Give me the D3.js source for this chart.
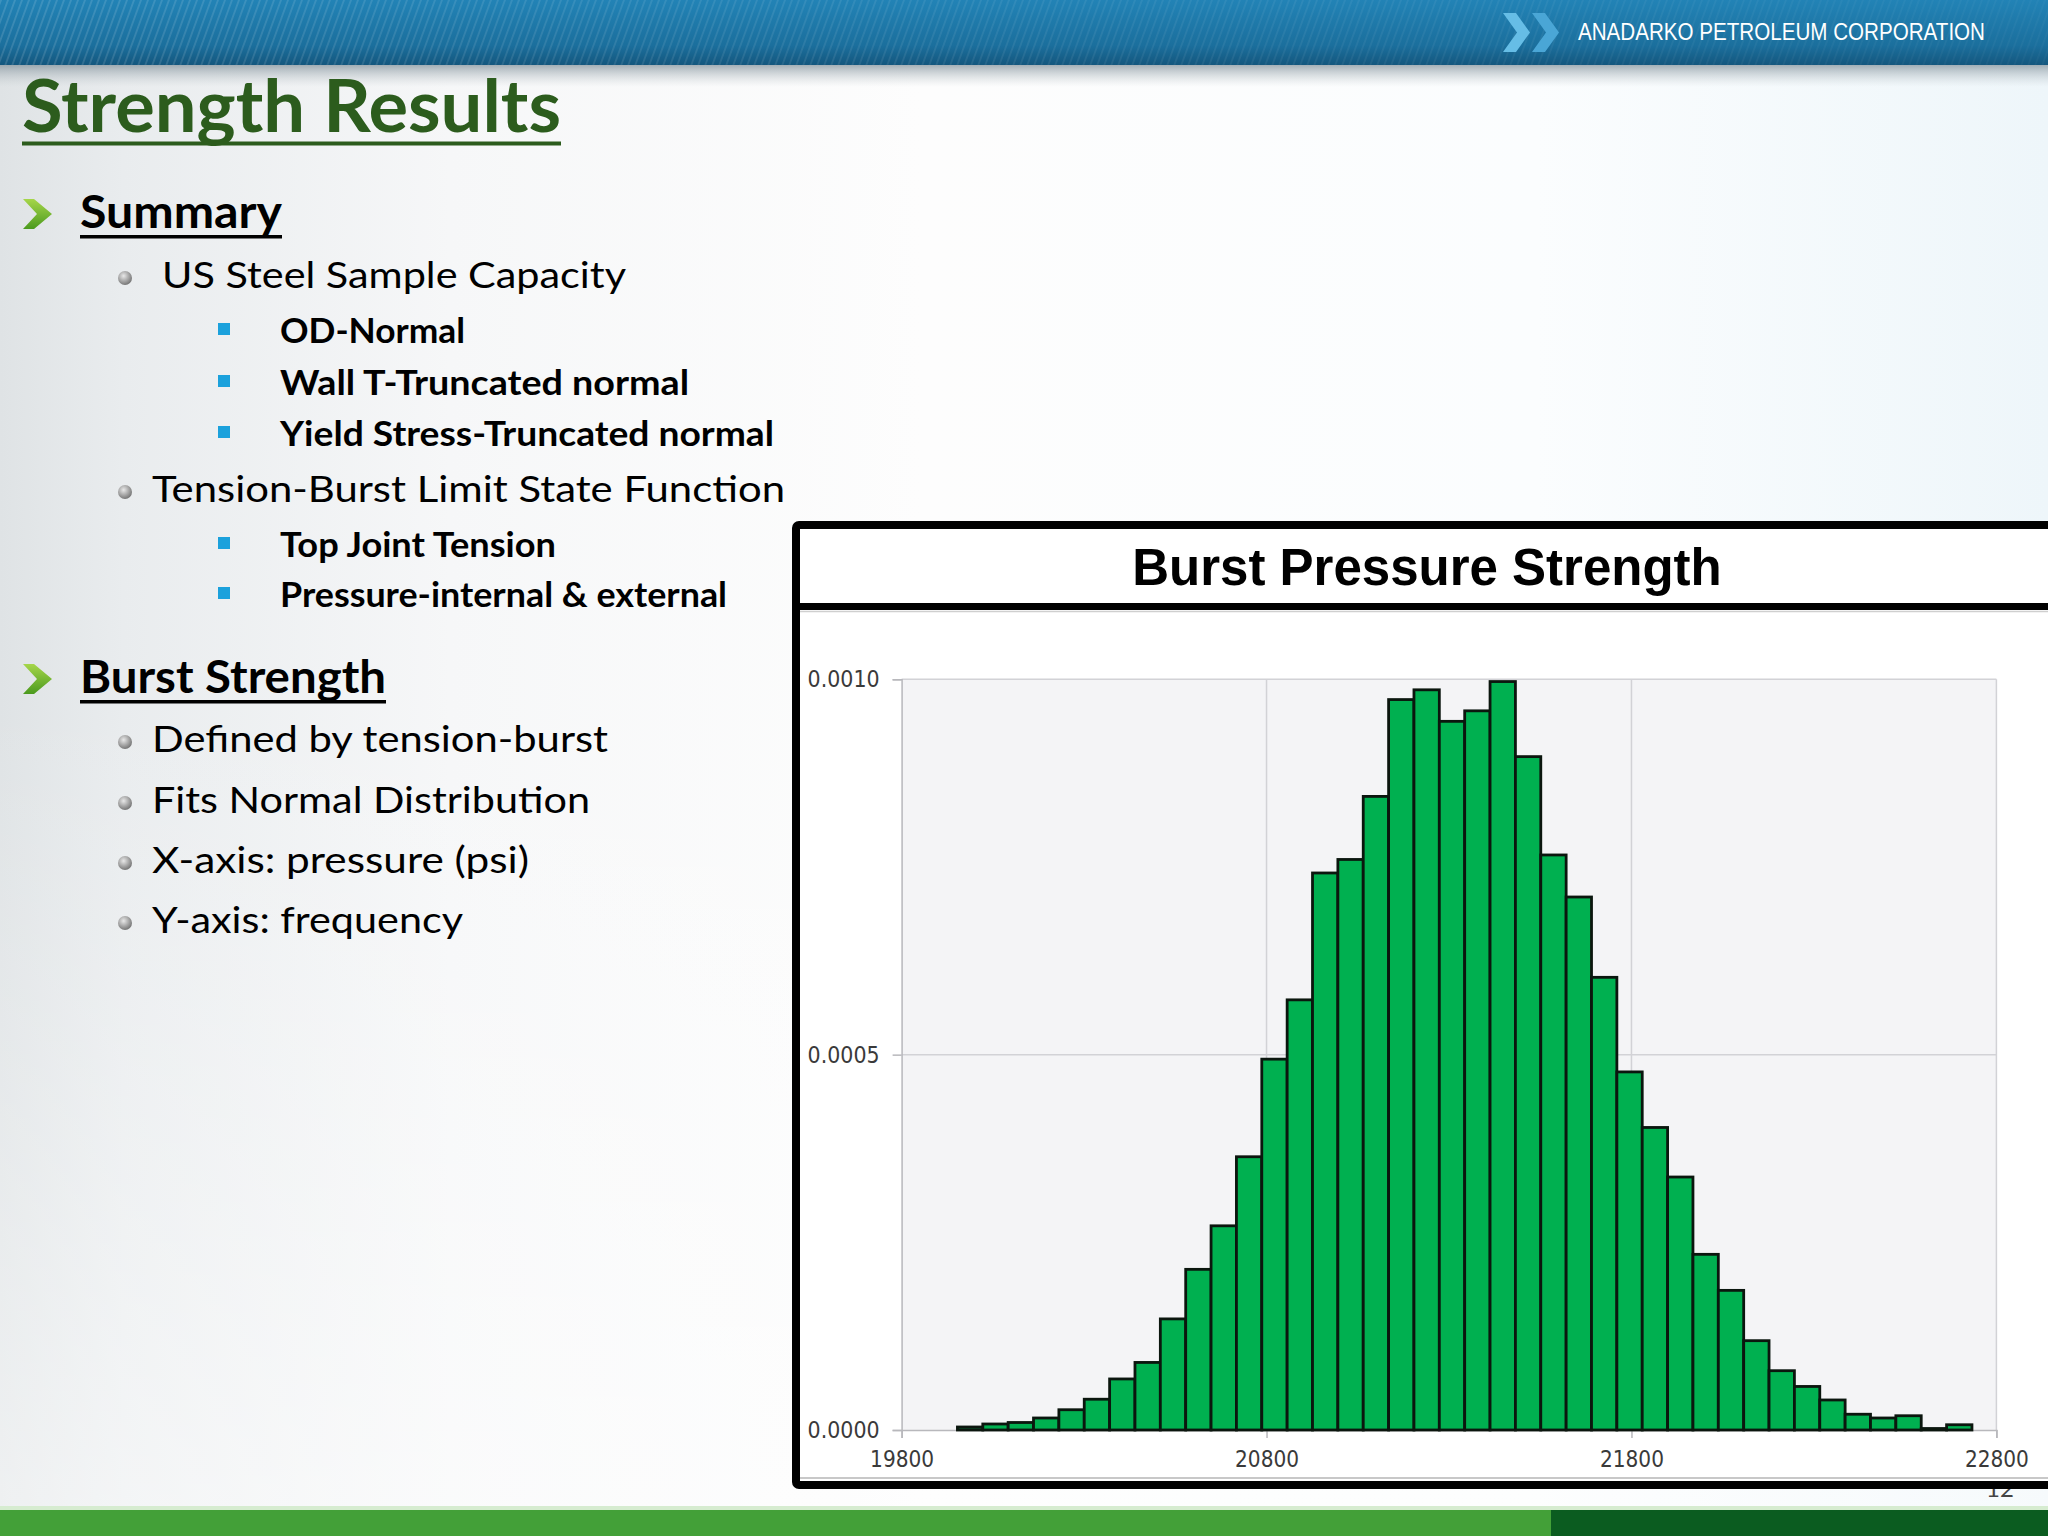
<!DOCTYPE html>
<html><head><meta charset="utf-8">
<script src="https://cdn.jsdelivr.net/npm/d3@7"></script>
<style>html,body{margin:0;padding:0;background:#fff;overflow:hidden;} svg{display:block;}</style>
</head><body>
<svg id="c" width="2048" height="1536"></svg>
<script>
// ---------- data ----------
const binLefts = [19953, 20022.5, 20092, 20161.5, 20231, 20300.5, 20370, 20439.5, 20509, 20578.5,
  20648, 20717.5, 20787, 20856.5, 20926, 20995.5, 21065, 21134.5, 21204, 21273.5,
  21343, 21412.5, 21482, 21551.5, 21621, 21690.5, 21760, 21829.5, 21899, 21968.5,
  22038, 22107.5, 22177, 22246.5, 22316, 22385.5, 22455, 22524.5, 22594, 22663.5];
const binWidth = 69.5;
const density = [0.000004, 0.000008, 0.000010, 0.000016, 0.000027, 0.000041, 0.000068, 0.000090, 0.000148, 0.000214,
  0.000272, 0.000364, 0.000494, 0.000573, 0.000742, 0.000760, 0.000844, 0.000973, 0.000986, 0.000944,
  0.000958, 0.000997, 0.000897, 0.000766, 0.000710, 0.000603, 0.000477, 0.000403, 0.000337, 0.000234,
  0.000186, 0.000119, 0.000079, 0.000058, 0.000040, 0.000021, 0.000016, 0.000019, 0.000002, 0.000007];
const xTicks = [19800, 20800, 21800, 22800];
const xTickLabels = ["19800", "20800", "21800", "22800"];
const yTicks = [0, 0.0005, 0.0010];
const yTickLabels = ["0.0000", "0.0005", "0.0010"];
const chartTitle = "Burst Pressure Strength";
const slideTitle = "Strength Results";
const companyName = "ANADARKO PETROLEUM CORPORATION";
const pageNumber = "12";
// slide bullets: [level, text]
const bullets = [
  [1, "Summary"],
  [2, "US Steel Sample Capacity"],
  [3, "OD-Normal"],
  [3, "Wall T-Truncated normal"],
  [3, "Yield Stress-Truncated normal"],
  [2, "Tension-Burst Limit State Function"],
  [3, "Top Joint Tension"],
  [3, "Pressure-internal & external"],
  [1, "Burst Strength"],
  [2, "Defined by tension-burst"],
  [2, "Fits Normal Distribution"],
  [2, "X-axis: pressure (psi)"],
  [2, "Y-axis: frequency"]
];
// layout for bullets (baseline y, x, text width)
const bulletLayout = [
  [228, 80, 202], [288, 162, 464], [343, 280, 185], [395, 280, 409], [446, 280, 494],
  [502, 152, 633], [557, 280, 276], [607, 280, 447],
  [693, 80, 306], [752, 152, 456], [813, 152, 438], [873, 152, 377], [933, 152, 311]
];

// ---------- drawing ----------
const svg = d3.select("#c");
const defs = svg.append("defs");

const bg = defs.append("linearGradient").attr("id", "bg").attr("x1", 0).attr("x2", 1).attr("y1", 0).attr("y2", 0);
[["0%", "#dfe3e5"], ["6%", "#e9ecee"], ["22%", "#f6f7f8"], ["45%", "#fdfdfd"], ["75%", "#fbfdfe"], ["100%", "#eef6fa"]]
  .forEach(s => bg.append("stop").attr("offset", s[0]).attr("stop-color", s[1]));
svg.append("rect").attr("width", 2048).attr("height", 1536).attr("fill", "url(#bg)");

const bgv = defs.append("linearGradient").attr("id", "bgv").attr("x1", 0).attr("x2", 0).attr("y1", 0).attr("y2", 1);
bgv.append("stop").attr("offset", "0%").attr("stop-color", "#ffffff").attr("stop-opacity", 0);
bgv.append("stop").attr("offset", "100%").attr("stop-color", "#ffffff").attr("stop-opacity", 0.5);
svg.append("rect").attr("y", 700).attr("width", 2048).attr("height", 836).attr("fill", "url(#bgv)");

// header
const hg = defs.append("linearGradient").attr("id", "hg").attr("x1", 0).attr("x2", 0).attr("y1", 0).attr("y2", 1);
[["0%", "#2283b6"], ["70%", "#1b6f9d"], ["100%", "#14577e"]].forEach(s => hg.append("stop").attr("offset", s[0]).attr("stop-color", s[1]));
svg.append("rect").attr("width", 2048).attr("height", 65).attr("fill", "url(#hg)");
const pat = defs.append("pattern").attr("id", "stripes").attr("patternUnits", "userSpaceOnUse")
  .attr("width", 7).attr("height", 65).attr("patternTransform", "skewX(-20)");
pat.append("rect").attr("width", 2).attr("height", 65).attr("fill", "#ffffff").attr("opacity", 0.13);
const sm = defs.append("linearGradient").attr("id", "sm").attr("x1", 0).attr("x2", 1);
sm.append("stop").attr("offset", "0%").attr("stop-color", "#fff").attr("stop-opacity", 1);
sm.append("stop").attr("offset", "55%").attr("stop-color", "#fff").attr("stop-opacity", 0.5);
sm.append("stop").attr("offset", "100%").attr("stop-color", "#fff").attr("stop-opacity", 0.25);
defs.append("mask").attr("id", "stmask").append("rect").attr("width", 2048).attr("height", 65).attr("fill", "url(#sm)");
svg.append("rect").attr("width", 2048).attr("height", 65).attr("fill", "url(#stripes)").attr("mask", "url(#stmask)");
const sh = defs.append("linearGradient").attr("id", "sh").attr("x1", 0).attr("x2", 0).attr("y1", 0).attr("y2", 1);
sh.append("stop").attr("offset", "0%").attr("stop-color", "#7f8f99").attr("stop-opacity", 0.7);
sh.append("stop").attr("offset", "100%").attr("stop-color", "#c0c8cc").attr("stop-opacity", 0);
svg.append("rect").attr("y", 65).attr("width", 2048).attr("height", 22).attr("fill", "url(#sh)");

// logo chevrons
function chevron(x0, color) {
  svg.append("polygon").attr("fill", color)
    .attr("points", [[x0, 13], [x0 + 13, 13], [x0 + 27, 32.5], [x0 + 13, 52], [x0, 52], [x0 + 14, 32.5]].map(p => p.join(",")).join(" "));
}
chevron(1503, "#66bde6");
chevron(1532, "#4aa6d6");
svg.append("text").attr("x", 1578).attr("y", 40).attr("fill", "#ffffff")
  .attr("font-family", "Liberation Sans, Arial, sans-serif").attr("font-size", 23)
  .attr("textLength", 407).attr("lengthAdjust", "spacingAndGlyphs").text(companyName);

// slide title
svg.append("text").attr("x", 22).attr("y", 132).attr("fill", "#2c5c1d")
  .attr("font-family", "Lato, sans-serif").attr("font-weight", "bold").attr("font-size", 72)
  .attr("textLength", 539).attr("lengthAdjust", "spacingAndGlyphs").text(slideTitle);
svg.append("rect").attr("x", 22).attr("y", 141.5).attr("width", 539).attr("height", 4).attr("fill", "#2c5c1d");

// bullets
const cg = defs.append("radialGradient").attr("id", "cg").attr("cx", "40%").attr("cy", "35%").attr("r", "65%");
cg.append("stop").attr("offset", "0%").attr("stop-color", "#e8e8e8");
cg.append("stop").attr("offset", "100%").attr("stop-color", "#777777");
const gg = defs.append("linearGradient").attr("id", "gg").attr("x1", 0).attr("x2", 0).attr("y1", 0).attr("y2", 1);
gg.append("stop").attr("offset", "0%").attr("stop-color", "#a6d64a");
gg.append("stop").attr("offset", "100%").attr("stop-color", "#4b9a1e");

bullets.forEach((b, i) => {
  const [lvl, txt] = b;
  const [by, bx, bw] = bulletLayout[i];
  const t = svg.append("text").attr("x", bx).attr("y", by).attr("fill", "#000")
    .attr("font-family", "Lato, sans-serif").attr("textLength", bw).attr("lengthAdjust", "spacingAndGlyphs").text(txt);
  if (lvl === 1) {
    t.attr("font-weight", "bold").attr("font-size", 46);
    svg.append("rect").attr("x", bx).attr("y", by + 7).attr("width", bw).attr("height", 3.5).attr("fill", "#000");
    const cy = by - 14;
    svg.append("polygon").attr("fill", "url(#gg)")
      .attr("points", [[23, cy - 15], [34, cy - 15], [52, cy], [34, cy + 15], [23, cy + 15], [37, cy]].map(p => p.join(",")).join(" "));
  } else if (lvl === 2) {
    t.attr("font-size", 37);
    svg.append("circle").attr("cx", 125).attr("cy", by - 10).attr("r", 7).attr("fill", "url(#cg)");
  } else {
    t.attr("font-weight", "bold").attr("font-size", 34);
    svg.append("rect").attr("x", 218).attr("y", by - 20).attr("width", 12).attr("height", 12).attr("fill", "#1ba1dc");
  }
});

// page number (partly hidden behind chart frame)
svg.append("text").attr("x", 2000).attr("y", 1497).attr("text-anchor", "middle").attr("fill", "#444")
  .attr("font-family", "Lato, sans-serif").attr("font-size", 24).text(pageNumber);

// bottom band
svg.append("rect").attr("y", 1506).attr("width", 2048).attr("height", 4).attr("fill", "#d6ecd0");
svg.append("rect").attr("y", 1510).attr("width", 1551).attr("height", 26).attr("fill", "#43a038");
svg.append("rect").attr("x", 1551).attr("y", 1510).attr("width", 497).attr("height", 26).attr("fill", "#0b5c20");

// ---------- chart ----------
svg.append("rect").attr("x", 796).attr("y", 525).attr("width", 1270).attr("height", 960).attr("rx", 3)
  .attr("fill", "#ffffff").attr("stroke", "#000").attr("stroke-width", 8);
svg.append("line").attr("x1", 792).attr("x2", 2048).attr("y1", 606.5).attr("y2", 606.5).attr("stroke", "#000").attr("stroke-width", 7);
svg.append("line").attr("x1", 800).attr("x2", 2048).attr("y1", 611.5).attr("y2", 611.5).attr("stroke", "#cfcfcf").attr("stroke-width", 1.5);
svg.append("line").attr("x1", 800).attr("x2", 2048).attr("y1", 1478).attr("y2", 1478).attr("stroke", "#c8c8c8").attr("stroke-width", 2);
svg.append("text").attr("x", 1427).attr("y", 585).attr("text-anchor", "middle").attr("fill", "#000")
  .attr("font-family", "Liberation Sans, Arial, sans-serif").attr("font-weight", "bold").attr("font-size", 51).text(chartTitle);

const x = d3.scaleLinear().domain([19800, 22800]).range([901.6, 1996.4]);
const y = d3.scaleLinear().domain([0, 0.0010]).range([1430, 679.3]);

svg.append("rect").attr("x", x(19800)).attr("y", y(0.001)).attr("width", x(22800) - x(19800)).attr("height", y(0) - y(0.001))
  .attr("fill", "#f4f4f6");

const grid = svg.append("g");
grid.selectAll("line.v").data(xTicks.slice(1)).join("line").attr("class", "v")
  .attr("x1", d => x(d)).attr("x2", d => x(d)).attr("y1", y(0.001)).attr("y2", y(0))
  .attr("stroke", "#d2d2d6").attr("stroke-width", 1.5);
grid.selectAll("line.h").data(yTicks.slice(1)).join("line").attr("class", "h")
  .attr("x1", x(19800)).attr("x2", x(22800)).attr("y1", d => y(d)).attr("y2", d => y(d))
  .attr("stroke", "#d2d2d6").attr("stroke-width", 1.5);

const yAxis = svg.append("g").attr("transform", `translate(${x(19800)},0)`)
  .call(d3.axisLeft(y).tickValues(yTicks).tickFormat((d, i) => yTickLabels[i]).tickSize(9).tickPadding(13));
const xAxis = svg.append("g").attr("transform", `translate(0,${y(0)})`)
  .call(d3.axisBottom(x).tickValues(xTicks).tickFormat((d, i) => xTickLabels[i]).tickSize(8).tickPadding(13));
[yAxis, xAxis].forEach(a => {
  a.select(".domain").attr("stroke", "#b8b8bc").attr("stroke-width", 1.5);
  a.selectAll(".tick line").attr("stroke", "#b8b8bc").attr("stroke-width", 1.5);
  a.selectAll(".tick text").attr("fill", "#3a3a3a").attr("font-family", "DejaVu Sans, sans-serif").attr("font-size", 23);
});
yAxis.selectAll(".tick text").attr("textLength", 72).attr("lengthAdjust", "spacingAndGlyphs");
xAxis.selectAll(".tick text").attr("textLength", 64).attr("lengthAdjust", "spacingAndGlyphs");

svg.append("g").selectAll("rect").data(density).join("rect")
  .attr("x", (d, i) => x(binLefts[i]))
  .attr("width", (d, i) => x(binLefts[i] + binWidth) - x(binLefts[i]))
  .attr("y", d => y(d))
  .attr("height", d => y(0) - y(d))
  .attr("fill", "#00b050").attr("stroke", "#0b160e").attr("stroke-width", 2.8);
</script>
</body></html>
